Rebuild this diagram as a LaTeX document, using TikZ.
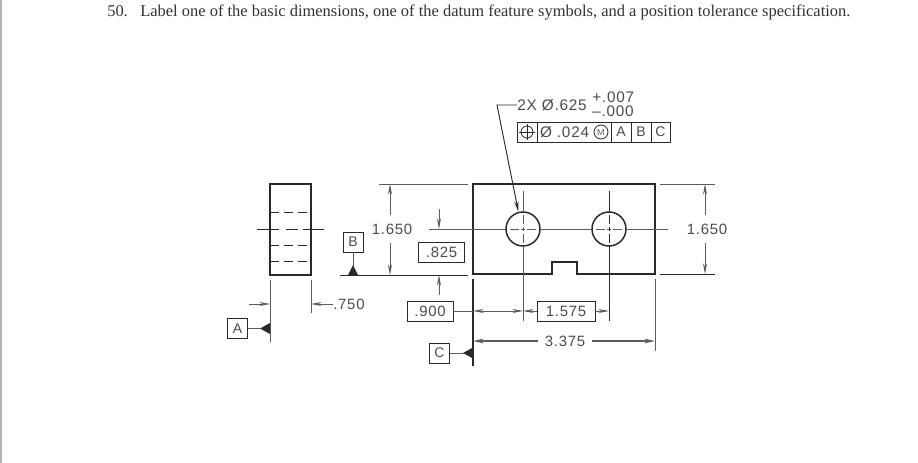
\documentclass[tikz,border=0pt]{standalone}
\usepackage{fontspec}
\setmainfont{Liberation Serif}
\newfontfamily\dimfont[LetterSpace=5]{Liberation Sans}
\usetikzlibrary{arrows.meta}
\definecolor{ink}{gray}{0.16}
\definecolor{txt}{gray}{0.3}
\definecolor{thin}{gray}{0.36}
\tikzset{
  x=0.75pt,y=-0.75pt,
  obj/.style={draw=ink,line width=1.1pt},
  hid/.style={draw=ink,line width=0.75pt,dash pattern=on 7pt off 3.5pt},
  dim/.style={draw=thin,line width=0.6pt},
  arr/.style={dim,-{Stealth[length=8pt,width=3pt]}},
  cl/.style={draw=thin,line width=0.65pt},
  lbl/.style={font=\dimfont\fontsize{11.2pt}{12pt}\selectfont,text=txt,inner sep=0pt},
  small/.style={font=\dimfont\fontsize{11.5pt}{12pt}\selectfont,text=txt,inner sep=0pt},
  bbox/.style={draw=ink,line width=0.6pt,font=\dimfont\fontsize{11.2pt}{12pt}\selectfont,text=txt,inner sep=0pt,anchor=center},
  dbox/.style={draw=ink,line width=0.6pt,font=\dimfont\fontsize{10.5pt}{11pt}\selectfont,text=txt,inner sep=0pt,anchor=center},
  hole/.style={draw=ink,line width=1.1pt,circle,minimum size=25.5pt,inner sep=0pt},
  dtri/.style={fill=ink,draw=none},
}
\begin{document}
\begin{tikzpicture}
\useasboundingbox (0,0) rectangle (918,463);
\fill[white] (0,0) rectangle (918,463);
\fill[gray!60] (0,0) rectangle (2,463);
% title
\node[anchor=base west,inner sep=0pt,text=black!80,font=\fontsize{12.35pt}{14pt}\selectfont] (num) at (107,17) {50.};
\node[anchor=base west,inner sep=0pt,text=black!80,font=\fontsize{12.35pt}{14pt}\selectfont] (title) at (140,17) {Label one of the basic dimensions, one of the datum feature symbols, and a position tolerance specification.};
% front view
\draw[obj] (473,184) -- (655,184) -- (655,274) -- (577,274) -- (577,262) -- (552,262) -- (552,274) -- (473,274) -- cycle;
\node[hole] (h1) at (523,229) {};
\node[hole] (h2) at (609,229) {};
% centre lines
\draw[cl] (429,229) -- (506,229) (510,229) -- (519,229) (521,229) -- (525,229) (527,229) -- (536,229) (540,229) -- (592,229)
          (596,229) -- (605,229) (607,229) -- (611,229) (613,229) -- (622,229) (626,229) -- (668,229);
\draw[cl] (523,191) -- (523,212) (523,215) -- (523,224) (523,227) -- (523,231) (523,234) -- (523,243) (523,246) -- (523,321);
\draw[draw=ink,line width=0.7pt] (609,191) -- (609,212) (609,215) -- (609,224) (609,227) -- (609,231) (609,234) -- (609,243) (609,246) -- (609,321);
% side view
\draw[obj] (270,184) rectangle (311,275);
\draw[hid] (270,213) -- (311,213);
\draw[hid] (270,246) -- (311,246);
\draw[hid] (270,262) -- (311,262);
\draw[draw=ink,line width=0.7pt] (257,229) -- (279,229) (286,229) -- (298,229) (303,229) -- (324,229);
% extension lines
\draw[dim] (379,184) -- (468,184);
\draw[draw=ink,line width=0.7pt] (340,275) -- (468,275);
\draw[dim] (660,184) -- (715,184);
\draw[draw=ink,line width=0.7pt] (660,274) -- (715,274);
\draw[dim] (270,280) -- (270,342);
\draw[dim] (311,280) -- (311,313);
\draw[draw=ink,line width=0.8pt] (473,279) -- (473,366);
\draw[dim] (655,279) -- (655,351);
% 1.650 left
\node[lbl] (d1) at (392,229) {1.650};
\draw[arr] (390,215) -- (390,184);
\draw[arr] (390,243) -- (390,275);
% .825
\node[bbox,minimum width=34.5pt,minimum height=15pt] (b825) at (441.5,252) {.825};
\draw[arr] (439,209) -- (439,229);
\draw[arr] (439,295) -- (439,275);
% .900 / 1.575
\node[bbox,minimum width=34.5pt,minimum height=15pt] (b900) at (430,311) {.900};
\node[bbox,minimum width=43.5pt,minimum height=15pt] (b1575) at (566,311) {1.575};
\draw[dim] (b900.east) -- (473,311);
\draw[dim,{Stealth[length=8pt,width=3pt]}-{Stealth[length=8pt,width=3pt]}] (473,311) -- (523,311);
\draw[arr] (b1575.west) -- (523,311);
\draw[arr] (b1575.east) -- (609,311);
% .750
\node[lbl,anchor=west] (d750) at (333,304) {.750};
\draw[arr] (249,304) -- (270,304);
\draw[arr] (d750.west) -- (311,304);
% 3.375
\node[lbl] (d3375) at (565,341) {3.375};
\draw[draw=thin,line width=1pt,-{Stealth[length=8pt,width=3.5pt]}] (d3375.west)+(-7,0) -- (473,341);
\draw[draw=thin,line width=1pt,-{Stealth[length=8pt,width=3.5pt]}] (d3375.east)+(7,0) -- (655,341);
% 1.650 right
\node[lbl] (d2) at (707,229) {1.650};
\draw[arr] (705,215) -- (705,184);
\draw[arr] (705,243) -- (705,274);
% datum A
\node[dbox,minimum width=15.5pt,minimum height=15pt] (A) at (237.5,328.5) {A};
\draw[dtri] (260,328.5) -- (270,323) -- (270,334) -- cycle;
\draw[dim] (A.east) -- (261,328.5);
% datum B
\node[dbox,minimum width=15pt,minimum height=15pt] (B) at (353,242) {B};
\draw[dtri] (353,265) -- (348,275) -- (358,275) -- cycle;
\draw[dim] (B.south) -- (353,266);
% datum C
\node[dbox,minimum width=15.5pt,minimum height=15pt] (C) at (439.5,353) {C};
\draw[dtri] (463,353) -- (473,347.5) -- (473,358.5) -- cycle;
\draw[dim] (C.east) -- (464,353);
% callout
\node[small,anchor=west] (call) at (517,105) {2X Ø.625};
\node[small,anchor=west] (tp) at (592,97) {+.007};
\node[small,anchor=west] (tm) at (592,111) {–.000};
\coordinate (lk) at (497,105);
\draw[draw=ink,line width=0.7pt,-{Stealth[length=8pt,width=3pt]}] (call.west) -- (lk) -- (h1.105);
% feature control frame
\foreach \xa/\xb/\n/\t in {517/537/f1/,537/611/f2/,611/631/f3/A,631/651/f4/B,651/670/f5/C}
  \node[dbox,minimum width={(\xb-\xa)*0.75pt},minimum height=15pt] (\n) at ({(\xa+\xb)/2},132) {\t};
\node[draw=ink,circle,line width=0.6pt,minimum size=9pt,inner sep=0pt] (pos) at (f1) {};
\draw[draw=ink,line width=0.6pt] (519,132) -- (535,132) (527,124) -- (527,140);
\node[small] (dia) at (546,132) {Ø};
\node[small] (tol) at (573,132) {.024};
\node[draw=ink,circle,line width=0.6pt,minimum size=10.5pt,inner sep=0pt,font=\sffamily\fontsize{6.5pt}{7pt}\selectfont,text=txt] (mmc) at (601,132) {M};
\end{tikzpicture}
\end{document}
